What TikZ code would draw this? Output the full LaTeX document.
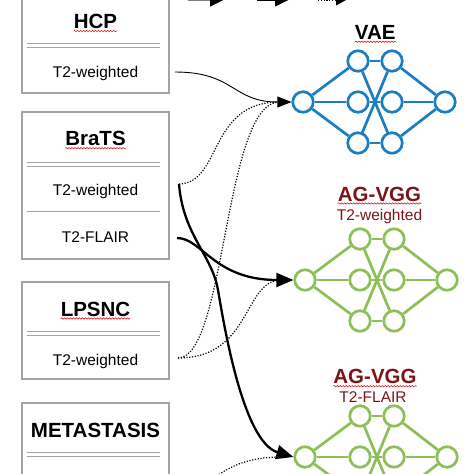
\documentclass[tikz,border=0pt]{standalone}
\usepackage{fontspec}
\setmainfont{Liberation Sans}
\usetikzlibrary{arrows.meta,decorations.pathmorphing}
\definecolor{netblue}{HTML}{1B7DC2}
\definecolor{netgreen}{HTML}{8CBF55}
\definecolor{netred}{HTML}{7B1416}
\definecolor{boxgray}{HTML}{A4A4A4}
\begin{document}
\begin{tikzpicture}[x=1pt,y=-1pt,
		title/.style={font=\fontsize{20.5}{24}\selectfont\bfseries, anchor=base, inner sep=0pt},
		item/.style={font=\fontsize{15.5}{18}\selectfont, anchor=base, inner sep=0pt},
		neuron/.style={circle, draw, line width=2.7pt, minimum size=20.5pt, inner sep=0pt},
		spell/.style={draw=red!85!black, line width=0.5pt, decorate, decoration={snake, amplitude=0.7pt, segment length=3pt}},
		frame/.style={draw=boxgray, line width=1.1pt},
		sep/.style={draw=boxgray, line width=1pt},
		conn/.style={line width=0.9pt, -{Triangle[length=14pt,width=11pt]}},
		thickconn/.style={line width=2.3pt, -{Triangle[length=17pt,width=14pt]}},
		dotconn/.style={line width=1.2pt, dash pattern=on 1.2pt off 1.6pt}]
		\useasboundingbox (0,0) rectangle (474,474);
		\clip (0,0) rectangle (474,474);

		%legend (cut at the top)
		\coordinate (lega) at (188,-2);
		\coordinate (legb) at (228,-2);
		\coordinate (legc) at (257,-2);
		\coordinate (legd) at (293,-2);
		\coordinate (lege) at (318,-2);
		\coordinate (legf) at (350,-2);
		\draw[line width=5pt, gray, -{Triangle[length=18pt,width=16pt,black]}] (lega) -- (legb);
		\draw[line width=5pt, -{Triangle[length=18pt,width=16pt]}] (legc) -- (legd);
		\draw[line width=5pt, dash pattern=on 1.2pt off 1.6pt, -{Triangle[length=14pt,width=14pt,sep=0pt]}] (lege) -- (legf);

		%dataset boxes
		\foreach \ytop/\ybot in {-20/93,112/259,282/379,403/520}{
			\draw[frame] (22,\ytop) rectangle (169,\ybot);
		}
		\foreach \y in {43.5,162.5,331,452}{
			\draw[sep] (27,\y) -- ++(133,0);
			\draw[sep] (27,\y+4) -- ++(133,0);
		}
		\draw[sep] (27,211) -- ++(133,0);

		\node[title] (hcp) at (95.5,28.5) {HCP};
		\node[item] (hcp-t2w) at (95.5,77.3) {T2-weighted};
		\node[title] (brats) at (95.5,145.7) {BraTS};
		\node[item] (brats-t2w) at (95.5,195) {T2-weighted};
		\node[item] (brats-flair) at (95.5,242) {T2-FLAIR};
		\node[title] (lpsnc) at (95.5,316) {LPSNC};
		\node[item] (lpsnc-t2w) at (95.5,365) {T2-weighted};
		\node[title] (meta) at (95.5,437) {METASTASIS};

		\foreach \n in {hcp,brats,lpsnc}{
			\draw[spell] ([yshift=-2.5pt]\n.base west) -- ([yshift=-2.5pt]\n.base east);
		}

		%networks
		\foreach \net/\cy/\dx/\col in {vae/102/303/netblue,gw/280/305/netgreen,gf/457/305/netgreen}{
			\begin{scope}[\col, line width=2.7pt]
				\node[neuron] (\net-in) at (\dx,\cy) {};
				\foreach \i/\dy in {1/-41,2/0,3/41}{
					\node[neuron] (\net-a\i) at (\dx+55,\cy+\dy) {};
					\node[neuron] (\net-b\i) at (\dx+89,\cy+\dy) {};
				}
				\node[neuron] (\net-out) at (\dx+142,\cy) {};
				\foreach \i in {1,2,3}{
					\draw (\net-in) -- (\net-a\i);
					\draw (\net-a\i) -- (\net-b\i);
					\draw (\net-b\i) -- (\net-out);
				}
				\draw (\net-a1) -- (\net-b3);
				\draw (\net-a3) -- (\net-b1);
			\end{scope}
		}

		\node[title] (vae) at (375.3,39.3) {VAE};
		\node[title, netred] (agvgg-w) at (379.5,201) {AG-VGG};
		\node[item, netred] (agvgg-w-mod) at (379.5,220.7) {T2-weighted};
		\node[title, netred] (agvgg-f) at (375,383.7) {AG-VGG};
		\node[item, netred] (agvgg-f-mod) at (373,402.7) {T2-FLAIR};
		\foreach \n in {vae,agvgg-w,agvgg-f}{
			\draw[spell] ([yshift=-2.5pt]\n.base west) -- ([yshift=-2.5pt]\n.base east);
		}

		%connections
		\coordinate (hcp-port) at (175,72);
		\coordinate (brw-port) at (179,184);
		\coordinate (brf-port) at (177,238);
		\coordinate (lps-port) at (178,358);
		\coordinate (met-port) at (178,520);

		\draw[conn] (hcp-port) .. controls (235,72) and (232,102) .. (vae-in.west);
		\draw[dotconn] (brw-port) .. controls (222,183) and (208,102) .. ([xshift=-12pt]vae-in.west);
		\draw[dotconn] (lps-port) .. controls (226,358) and (224,102) .. ([xshift=-12pt]vae-in.west);
		\draw[dotconn] (lps-port) .. controls (252,358) and (243,280) .. ([xshift=-12pt]gw-in.west);
		\draw[thickconn] (brf-port) .. controls (202,238) and (214,280) .. (gw-in.west);
		\draw[thickconn] (brw-port) .. controls (183,235) and (212,255) .. (218,290) .. controls (224,325) and (243,442) .. (gf-in.west);
		\draw[dotconn] (met-port) .. controls (205,480) and (230,457) .. ([xshift=-12pt]gf-in.west);

	\end{tikzpicture}
\end{document}
